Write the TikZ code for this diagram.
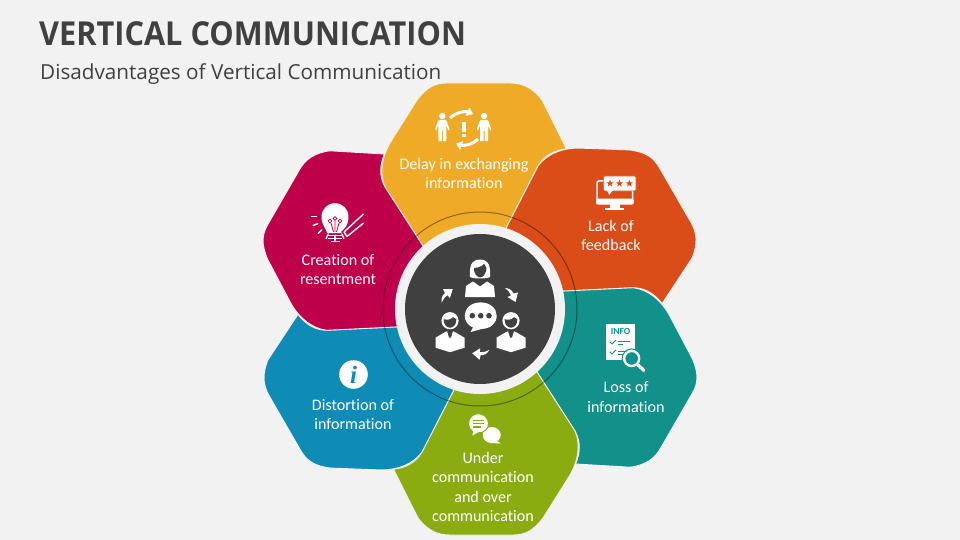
\documentclass[tikz,border=0pt]{standalone}
\usepackage{xcolor}
\usepackage{fontspec}
\setmainfont{Open Sans}
\newfontfamily\titlefont[FakeStretch=0.93]{Open Sans}
\newfontfamily\labelfont[Ligatures=CommonOff]{Carlito}
\newfontfamily\infofont{Liberation Serif}
\usepackage{tikz}
\usetikzlibrary{shapes.geometric, arrows.meta, positioning}
\definecolor{pagegray}{HTML}{F2F2F2}
\definecolor{darkgray}{HTML}{404040}
\definecolor{delayyellow}{HTML}{EFAB28}
\definecolor{feedbackorange}{HTML}{DA4D18}
\definecolor{lossteal}{HTML}{12918A}
\definecolor{undergreen}{HTML}{8AAC10}
\definecolor{distortblue}{HTML}{0E8CB5}
\definecolor{resentred}{HTML}{BE004B}

\tikzset{
  petal/.pic={
    \path[pic actions] (-57,-63) -- (-95,-122)
      .. controls (-101,-136) and (-98,-152) .. (-90,-166) -- (-63,-209)
      .. controls (-53,-222) and (-45,-226) .. (-33,-226) -- (30,-226)
      .. controls (42,-226) and (52,-222) .. (62,-209) -- (86.4,-160.3)
      .. controls (74.7,-158.9) and (64.2,-153.7) .. (58.2,-143.3)
      -- (26.1,-80.9) -- (0,0) -- cycle;
  },
  walker/.pic={
    \fill[white] (0,0) circle (3.2pt);
    \fill[white, rounded corners=1pt] (-4,4) -- (-7.5,14) -- (-6,14.6) -- (-4,9) -- (-4,25.5) -- (-0.5,25.5)
      -- (-0.5,14) -- (0.5,14) -- (0.5,25.5) -- (4,25.5) -- (4,9) -- (6,14.6) -- (7.5,14) -- (4,4) -- cycle;
  },
  manbust/.pic={
    \fill[white] (0,0) circle (8.6pt);
    \fill[darkgray] (-6.4,-1.5) .. controls (-3,-0.5) and (1,-1) .. (3,-3.5) .. controls (4,-2.5) and (5.5,-2) .. (6.4,-1.5)
      .. controls (6.6,4) and (3,7) .. (0,7) .. controls (-3,7) and (-6.6,4) .. (-6.4,-1.5) -- cycle;
    \fill[white] (-14.5,17) -- (-6,12) -- (-3,10.5) -- (-1,17) -- (1,17) -- (3,10.5) -- (6,12) -- (14.5,17)
      -- (14.5,27) -- (0,31.5) -- (-14.5,27) -- cycle;
    \fill[darkgray] (-1.2,11) rectangle (-0.3,16);
    \fill[darkgray] (0.3,11) rectangle (1.2,16);
  },
  turnarrow/.pic={
    \fill[white] (0,0) .. controls (4,0.3) and (7,2) .. (8.5,5.5) -- (13,4.5) -- (10.5,14) -- (2.5,9)
      -- (6,7.5) .. controls (5,4.5) and (3,2) .. (0,0) -- cycle;
  }
}

\begin{document}
\begin{tikzpicture}[
  x=1pt, y=-1pt,
  labeltext/.style={font=\labelfont\fontsize{16.1}{19.4}\selectfont, text=white, align=center, inner sep=0pt},
  ray/.style={draw=white, line width=1.4pt, line cap=round},
  iconline/.style={draw=white, line width=3pt}
]
  \useasboundingbox (0,0) rectangle (960,540);
  \fill[pagegray] (0,0) rectangle (960,540);

  \node[anchor=base west, inner sep=0pt, text=darkgray, font=\titlefont\bfseries\fontsize{33}{36}\selectfont] (mainTitle) at (39,46) {VERTICAL COMMUNICATION};
  \node[anchor=base west, inner sep=0pt, text=darkgray, font=\fontsize{20.7}{24}\selectfont] (subTitle) at (40,80) {Disadvantages of Vertical Communication};

  \foreach \petalcolor [count=\i from 0] in {delayyellow, feedbackorange, lossteal, undergreen, distortblue, resentred} {
    \pic[fill=\petalcolor, draw=pagegray, line width=0.9pt, rotate=-60*\i] at (480,309) {petal};
  }

  \draw[black, opacity=0.4, line width=1pt] (480,309) circle (97pt);
  \fill[pagegray] (480,309) circle (85pt);
  \fill[darkgray] (480,309) circle (75pt);

  % center icon
  \fill[white] (470,277) .. controls (469,262) and (474,259.5) .. (480,259.5) .. controls (486,259.5) and (491,262) .. (490,277)
    .. controls (486,279) and (474,279) .. (470,277) -- cycle;
  \fill[darkgray] (474,268) .. controls (478,268) and (483,266) .. (484,263.5) .. controls (485,265) and (486,267) .. (486.5,268)
    .. controls (486.5,273) and (483,277.5) .. (480,277.5) .. controls (477,277.5) and (473.5,273) .. (474,268) -- cycle;
  \fill[white] (465,297) -- (466,286) -- (473,281.5) -- (480,286.5) -- (487,281.5) -- (494,286) -- (495,297) -- cycle;
  \pic at (450,320.7) {manbust};
  \pic at (511,320.7) {manbust};
  \fill[white] (480.7,302.4) .. controls (471,302.4) and (464.7,308.5) .. (464.7,315.7) .. controls (464.7,321) and (468,325.5) .. (473,327.5)
    -- (470.7,332) -- (482,328.9) .. controls (491,328.5) and (496.7,323) .. (496.7,315.7) .. controls (496.7,308.5) and (490,302.4) .. (480.7,302.4) -- cycle;
  \foreach \dotx in {472.3, 480.7, 489} {
    \fill[darkgray] (\dotx,315.7) circle (2.8pt);
  }
  \pic at (505,288) {turnarrow};
  \pic[rotate=-116] at (489.3,350) {turnarrow};
  \pic[rotate=104] at (441.7,302.7) {turnarrow};

  % yellow icon
  \pic at (442.3,116) {walker};
  \pic at (484,116) {walker};
  \fill[white] (462.4,122) rectangle (466.2,132);
  \fill[white] (462.4,134) rectangle (466.2,137.5);
  \draw[iconline, -{Triangle[length=6pt, width=9pt]}] (450,118) .. controls (456,112) and (466,111) .. (473,114);
  \draw[iconline, -{Triangle[length=6pt, width=9pt]}] (478,139) .. controls (472,145) and (463,146) .. (456,143.5);
  \node[labeltext] (delayLabel) at (464,173.5) {Delay in exchanging\\information};

  % orange icon
  \draw[white, line width=1.5pt, rounded corners=1.5pt] (597,204) -- (597,181) -- (632.5,181) -- (632.5,204);
  \fill[white, rounded corners=1.5pt] (596,198.5) rectangle (633.5,204.5);
  \fill[white] (610,204) rectangle (620,208);
  \fill[white] (605,208) rectangle (624,209.8);
  \fill[white, draw=feedbackorange, line width=0.8pt, rounded corners=1pt] (603.3,176) -- (636,176) -- (636,191) -- (613,191) -- (609,196) -- (607,191) -- (603.3,191) -- cycle;
  \foreach \starx [count=\s] in {610, 619.5, 629.3} {
    \node[star, star points=5, star point ratio=2.4, fill=feedbackorange, inner sep=0pt, minimum size=7.5pt] (feedbackStar\s) at (\starx,183.5) {};
  }
  \node[labeltext] (feedbackLabel) at (611,235.5) {Lack of\\feedback};

  % teal icon
  \fill[white] (606,324) rectangle (635,360);
  \node[inner sep=0pt, text=lossteal, font=\labelfont\bfseries\fontsize{9.5}{10}\selectfont] (infoWord) at (620.5,331) {INFO};
  \foreach \rowy in {342, 352} {
    \draw[lossteal, line width=1pt] (610,\rowy) -- (612,\rowy+2) -- (616,\rowy-2);
    \draw[lossteal, line width=1pt] (618,\rowy-1) -- (630,\rowy-1);
    \draw[lossteal, line width=1pt] (618,\rowy+2) -- (623,\rowy+2);
  }
  \draw[draw=white, fill=lossteal, line width=2.4pt] (631.7,358.5) circle (7.6pt);
  \draw[lossteal, line width=1pt] (631.7,358.5) circle (9.6pt);
  \draw[white, line width=3.2pt, line cap=round] (638,365) -- (644,370.5);
  \node[labeltext] (lossLabel) at (626,397) {Loss of\\information};

  % green icon
  \fill[white] (491.7,435) ellipse (9pt and 8pt);
  \fill[white] (495,440) -- (501,443.5) -- (490,443) -- cycle;
  \fill[white, draw=undergreen, line width=1pt] (468.5,424) .. controls (468.5,417.5) and (473,413.7) .. (478.3,413.7)
    .. controls (484,413.7) and (488.5,418) .. (488.5,423.5) .. controls (488.5,429) and (484,433) .. (478,433)
    -- (471.5,437) -- (472.5,431.5) .. controls (470,430) and (468.5,427) .. (468.5,424) -- cycle;
  \foreach \liney/\lineend in {420.5/484, 423.7/484, 427/481} {
    \draw[undergreen, line width=1.3pt] (473,\liney) -- (\lineend,\liney);
  }
  \node[labeltext] (underLabel) at (483,487) {Under\\communication\\and over\\communication};

  % blue icon
  \fill[white] (353.5,374.5) circle (14.3pt);
  \node[inner sep=0pt, text=distortblue, font=\infofont\bfseries\itshape\fontsize{25}{25}\selectfont] (infoGlyph) at (353.5,374.5) {i};
  \node[labeltext] (distortLabel) at (353,414.5) {Distortion of\\information};

  % red icon
  \foreach \rayang in {-180, -158, -135, -112, -90, -68, -45, -22} {
    \draw[ray] ([shift={(\rayang:18.5pt)}]335,216.7) -- ([shift={(\rayang:23.5pt)}]335,216.7);
  }
  \fill[white] (326,230) .. controls (323,225) and (321.5,222) .. (321.5,216.7) .. controls (321.5,209) and (327.5,203.2) .. (335,203.2)
    .. controls (342.5,203.2) and (348.5,209) .. (348.5,216.7) .. controls (348.5,222) and (347,225) .. (344,230) -- (343,233) -- (327,233) -- cycle;
  \foreach \basey/\basew in {235.5/8, 238.5/7, 241.5/4.5} {
    \draw[white, line width=1.7pt] (335-\basew,\basey) -- (335+\basew,\basey);
  }
  \foreach \loopx/\loopy in {330/221, 335/218.5, 340/221} {
    \draw[resentred, line width=0.8pt] (\loopx,\loopy) circle (1.9pt);
  }
  \draw[resentred, line width=0.8pt] (331,223) -- (333.5,232) (335,220.5) -- (335,232) (339,223) -- (336.5,232);
  \fill[resentred] (341,232) -- (363,211) -- (366,224) -- (348,238.5) -- cycle;
  \draw[white, line width=1.4pt] (344,232) -- (363.5,214);
  \draw[white, line width=1.4pt] (347,236.5) -- (363.5,223);
  \draw[white, line width=1.4pt] (344,232) -- (347,236.5);
  \node[labeltext] (resentLabel) at (338,269.5) {Creation of\\resentment};
\end{tikzpicture}
\end{document}
